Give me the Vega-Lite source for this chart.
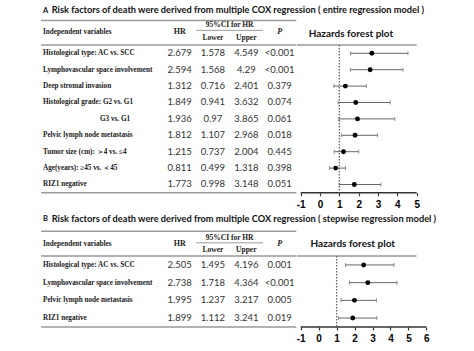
{
  "$schema": "https://vega.github.io/schema/vega-lite/v6.json",
  "background": "white",
  "padding": {"left": 40, "top": 5.3, "right": 0, "bottom": 0},
  "config": {
    "view": {"stroke": null},
    "axisX": {"domain": false, "tickColor": "#333", "tickWidth": 1.2, "tickSize": 3, "labelFont": "Liberation Sans", "labelFontSize": 10, "labelFontWeight": "bold", "labelColor": "#000", "labelPadding": 4, "labelOverlap": false, "labelFlush": false, "labelExpr": "datum.value + ''", "grid": false}
  },
  "datasets": {
    "one": [{}],
    "A": [
      {"row": "r1", "variable": "Histological type: AC vs. SCC", "hr": 2.679, "lo": 1.578, "hi": 4.549, "p": "<0.001"},
      {"row": "r2", "variable": "Lymphovascular space involvement", "hr": 2.594, "lo": 1.568, "hi": 4.29, "p": "<0.001"},
      {"row": "r3", "variable": "Deep stromal invasion", "hr": 1.312, "lo": 0.716, "hi": 2.401, "p": "0.379"},
      {"row": "r4", "variable": "Histological grade: G2 vs. G1", "hr": 1.849, "lo": 0.941, "hi": 3.632, "p": "0.074"},
      {"row": "r5", "variable": "G3 vs. G1", "hr": 1.936, "lo": 0.97, "hi": 3.865, "p": "0.061"},
      {"row": "r6", "variable": "Pelvic lymph node metastasis", "hr": 1.812, "lo": 1.107, "hi": 2.968, "p": "0.018"},
      {"row": "r7", "variable": "Tumor size (cm):  \uff1e4 vs. \u22644", "hr": 1.215, "lo": 0.737, "hi": 2.004, "p": "0.445"},
      {"row": "r8", "variable": "Age(years): \u226545 vs. \uff1c45", "hr": 0.811, "lo": 0.499, "hi": 1.318, "p": "0.398"},
      {"row": "r9", "variable": "RIZ1 negative", "hr": 1.773, "lo": 0.998, "hi": 3.148, "p": "0.051"}
    ],
    "B": [
      {"row": "r1", "variable": "Histological type: AC vs. SCC", "hr": 2.505, "lo": 1.495, "hi": 4.196, "p": "0.001"},
      {"row": "r2", "variable": "Lymphovascular space involvement", "hr": 2.738, "lo": 1.718, "hi": 4.364, "p": "<0.001"},
      {"row": "r3", "variable": "Pelvic lymph node metastasis", "hr": 1.995, "lo": 1.237, "hi": 3.217, "p": "0.005"},
      {"row": "r4", "variable": "RIZ1 negative", "hr": 1.899, "lo": 1.112, "hi": 3.241, "p": "0.019"}
    ]
  },
  "bounds": "flush",
  "columns": 3,
  "spacing": {"row": 27.4, "column": 0},
  "concat": [
    {
      "width": 122, "height": 180.4,
      "encoding": {
        "y": {"field": "row", "type": "nominal", "scale": {"type": "band", "domain": ["top", "head", "r1", "r2", "r3", "r4", "r5", "r6", "r7", "r8", "r9"], "paddingInner": 0, "paddingOuter": 0}, "axis": null}
      },
      "layer": [
        {"data": {"name": "one"}, "mark": {"type": "text", "align": "left", "dx": 2, "dy": -9.8, "font": "Lato", "fontWeight": "bold", "fontSize": 7.5, "color": "#111"},
         "encoding": {"x": {"datum": "v", "type": "nominal", "bandPosition": 0, "scale": {"type": "band", "domain": ["v"], "paddingInner": 0, "paddingOuter": 0}, "axis": null}, "y": {"datum": "top", "type": "nominal"}, "text": {"value": "A"}}},
        {"data": {"name": "one"}, "mark": {"type": "text", "align": "left", "dx": 10.7, "dy": -10.2, "font": "Lato", "fontWeight": "bold", "fontSize": 9.25, "color": "#111"},
         "encoding": {"x": {"datum": "v", "type": "nominal", "bandPosition": 0, "scale": {"type": "band", "domain": ["v"], "paddingInner": 0, "paddingOuter": 0}, "axis": null}, "y": {"datum": "top", "type": "nominal"}, "text": {"value": "Risk factors  of death  were derived from multiple COX regression ( entire regression model )"}}},
        {"data": {"name": "A"}, "transform": [{"filter": "datum.row !== 'r5'"}], "mark": {"type": "text", "align": "left", "dx": 2, "font": "Liberation Serif", "fontWeight": "bold", "fontSize": 7.2, "color": "#222"},
         "encoding": {"x": {"datum": "v", "type": "nominal", "bandPosition": 0, "scale": {"type": "band", "domain": ["v"], "paddingInner": 0, "paddingOuter": 0}, "axis": null}, "text": {"field": "variable"}}},
        {"data": {"name": "A"}, "transform": [{"filter": "datum.row === 'r5'"}], "mark": {"type": "text", "align": "left", "dx": 59, "font": "Liberation Serif", "fontWeight": "bold", "fontSize": 7.2, "color": "#222"},
         "encoding": {"x": {"datum": "v", "type": "nominal", "bandPosition": 0, "scale": {"type": "band", "domain": ["v"], "paddingInner": 0, "paddingOuter": 0}, "axis": null}, "text": {"field": "variable"}}},
        {"data": {"name": "one"}, "mark": {"type": "text", "align": "left", "dx": 2, "dy": -4.5, "font": "Liberation Serif", "fontWeight": "bold", "fontSize": 7.2, "color": "#222"},
         "encoding": {"x": {"datum": "v", "type": "nominal", "bandPosition": 0, "scale": {"type": "band", "domain": ["v"], "paddingInner": 0, "paddingOuter": 0}, "axis": null}, "y": {"datum": "head", "type": "nominal"}, "text": {"value": "Independent variables"}}},
        {"data": {"name": "one"}, "mark": {"type": "rule", "color": "#999", "strokeWidth": 1.5},
         "encoding": {"y": {"datum": "top", "type": "nominal", "bandPosition": 0.5}}},
        {"data": {"name": "one"}, "mark": {"type": "rule", "color": "#999", "strokeWidth": 1.5},
         "encoding": {"y": {"datum": "r1", "type": "nominal", "bandPosition": 0}}},
        {"data": {"name": "one"}, "mark": {"type": "rule", "color": "#999", "strokeWidth": 1.5},
         "encoding": {"y": {"datum": "r9", "type": "nominal", "bandPosition": 1}}}
      ]
    },
    {
      "width": 133.3, "height": 180.4,
      "encoding": {
        "y": {"field": "row", "type": "nominal", "scale": {"type": "band", "domain": ["top", "head", "r1", "r2", "r3", "r4", "r5", "r6", "r7", "r8", "r9"], "paddingInner": 0, "paddingOuter": 0}, "axis": null}
      },
      "layer": [
        {"data": {"name": "A"}, "mark": {"type": "text", "font": "Lato", "fontSize": 9.5, "color": "#333"},
         "encoding": {"x": {"datum": "HR", "type": "nominal", "scale": {"type": "band", "domain": ["HR", "Lower", "Upper", "P"], "paddingInner": 0, "paddingOuter": 0}, "axis": null}, "text": {"field": "hr", "type": "nominal"}}},
        {"data": {"name": "A"}, "mark": {"type": "text", "font": "Lato", "fontSize": 9.5, "color": "#333"},
         "encoding": {"x": {"datum": "Lower", "type": "nominal"}, "text": {"field": "lo", "type": "nominal"}}},
        {"data": {"name": "A"}, "mark": {"type": "text", "font": "Lato", "fontSize": 9.5, "color": "#333"},
         "encoding": {"x": {"datum": "Upper", "type": "nominal"}, "text": {"field": "hi", "type": "nominal"}}},
        {"data": {"name": "A"}, "mark": {"type": "text", "font": "Lato", "fontSize": 9.5, "color": "#333"},
         "encoding": {"x": {"datum": "P", "type": "nominal"}, "text": {"field": "p", "type": "nominal"}}},
        {"data": {"name": "one"}, "mark": {"type": "text", "font": "Liberation Serif", "fontWeight": "bold", "fontSize": 8, "color": "#222", "dy": -4.5},
         "encoding": {"x": {"datum": "HR", "type": "nominal"}, "y": {"datum": "head", "type": "nominal"}, "text": {"value": "HR"}}},
        {"data": {"name": "one"}, "mark": {"type": "text", "font": "Liberation Serif", "fontWeight": "bold", "fontStyle": "italic", "fontSize": 8, "color": "#222", "dy": -4.5},
         "encoding": {"x": {"datum": "P", "type": "nominal"}, "y": {"datum": "head", "type": "nominal"}, "text": {"value": "P"}}},
        {"data": {"name": "one"}, "mark": {"type": "text", "font": "Liberation Serif", "fontWeight": "bold", "fontSize": 7.5, "color": "#222", "dy": 1},
         "encoding": {"x": {"datum": "Lower", "type": "nominal"}, "y": {"datum": "head", "type": "nominal"}, "text": {"value": "Lower"}}},
        {"data": {"name": "one"}, "mark": {"type": "text", "font": "Liberation Serif", "fontWeight": "bold", "fontSize": 7.5, "color": "#222", "dy": 1},
         "encoding": {"x": {"datum": "Upper", "type": "nominal"}, "y": {"datum": "head", "type": "nominal"}, "text": {"value": "Upper"}}},
        {"data": {"name": "one"}, "mark": {"type": "text", "font": "Liberation Serif", "fontWeight": "bold", "fontSize": 7.5, "color": "#222", "dy": -11.5},
         "encoding": {"x": {"datum": "Lower", "type": "nominal", "bandPosition": 1}, "y": {"datum": "head", "type": "nominal"}, "text": {"value": "95%CI for HR"}}},
        {"data": {"name": "one"}, "mark": {"type": "rule", "color": "#999", "strokeWidth": 1},
         "encoding": {"x": {"datum": "Lower", "type": "nominal", "bandPosition": 0}, "x2": {"datum": "Upper", "bandPosition": 1}, "y": {"datum": "head", "type": "nominal", "bandPosition": 0.1}}},
        {"data": {"name": "one"}, "mark": {"type": "rule", "color": "#999", "strokeWidth": 1.5},
         "encoding": {"y": {"datum": "top", "type": "nominal", "bandPosition": 0.5}}},
        {"data": {"name": "one"}, "mark": {"type": "rule", "color": "#999", "strokeWidth": 1.5},
         "encoding": {"y": {"datum": "r1", "type": "nominal", "bandPosition": 0}}},
        {"data": {"name": "one"}, "mark": {"type": "rule", "color": "#999", "strokeWidth": 1.5},
         "encoding": {"y": {"datum": "r9", "type": "nominal", "bandPosition": 1}}}
      ]
    },
    {
      "width": 119.7, "height": 180.4,
      "encoding": {
        "y": {"field": "row", "type": "nominal", "scale": {"type": "band", "domain": ["top", "head", "r1", "r2", "r3", "r4", "r5", "r6", "r7", "r8", "r9"], "paddingInner": 0, "paddingOuter": 0}, "axis": null}
      },
      "layer": [
        {"data": {"name": "one"}, "mark": {"type": "text", "font": "Lato", "fontWeight": "bold", "fontSize": 10, "color": "#111", "dy": -3},
         "encoding": {"x": {"datum": 1.6, "type": "quantitative", "scale": {"domain": [-1.19, 5], "nice": false, "zero": false}, "axis": {"values": [-1, 0, 1, 2, 3, 4, 5], "title": null}}, "y": {"datum": "head", "type": "nominal"}, "text": {"value": "Hazards forest plot"}}},
        {"data": {"name": "one"}, "mark": {"type": "rule", "color": "#999", "strokeWidth": 1.5},
         "encoding": {"x": {"datum": -1.19, "type": "quantitative", "axis": {"values": [-1, 0, 1, 2, 3, 4, 5], "title": null}}, "x2": {"datum": 5}, "y": {"datum": "r1", "type": "nominal", "bandPosition": 0}}},
        {"data": {"name": "one"}, "mark": {"type": "rule", "color": "#333", "strokeWidth": 1.5},
         "encoding": {"x": {"datum": -1, "type": "quantitative", "axis": {"values": [-1, 0, 1, 2, 3, 4, 5], "title": null}}, "x2": {"datum": 5}, "y": {"datum": "r9", "type": "nominal", "bandPosition": 1}}},
        {"data": {"name": "one"}, "mark": {"type": "rule", "color": "#666", "strokeWidth": 1.3, "strokeDash": [1.5, 1.5]},
         "encoding": {"x": {"datum": 1, "type": "quantitative", "axis": {"values": [-1, 0, 1, 2, 3, 4, 5], "title": null}}, "y": {"datum": "r1", "type": "nominal", "bandPosition": 0}, "y2": {"datum": "r9", "bandPosition": 1}}},
        {"data": {"name": "A"}, "mark": {"type": "rule", "color": "#666", "strokeWidth": 1},
         "encoding": {"x": {"field": "lo", "type": "quantitative", "axis": {"values": [-1, 0, 1, 2, 3, 4, 5], "title": null}}, "x2": {"field": "hi"}}},
        {"data": {"name": "A"}, "mark": {"type": "tick", "color": "#666", "size": 4, "thickness": 1},
         "encoding": {"x": {"field": "lo", "type": "quantitative", "axis": {"values": [-1, 0, 1, 2, 3, 4, 5], "title": null}}}},
        {"data": {"name": "A"}, "mark": {"type": "tick", "color": "#666", "size": 4, "thickness": 1},
         "encoding": {"x": {"field": "hi", "type": "quantitative", "axis": {"values": [-1, 0, 1, 2, 3, 4, 5], "title": null}}}},
        {"data": {"name": "A"}, "mark": {"type": "point", "filled": true, "color": "#000", "opacity": 1, "size": 24},
         "encoding": {"x": {"field": "hr", "type": "quantitative", "axis": {"values": [-1, 0, 1, 2, 3, 4, 5], "title": null}}}}
      ]
    },
    {
      "width": 122, "height": 106.2,
      "encoding": {
        "y": {"field": "row", "type": "nominal", "scale": {"type": "band", "domain": ["top", "head", "r1", "r2", "r3", "r4"], "paddingInner": 0, "paddingOuter": 0}, "axis": null}
      },
      "layer": [
        {"data": {"name": "one"}, "mark": {"type": "text", "align": "left", "dx": 2, "dy": -10.3, "font": "Lato", "fontWeight": "bold", "fontSize": 7.5, "color": "#111"},
         "encoding": {"x": {"datum": "v", "type": "nominal", "bandPosition": 0, "scale": {"type": "band", "domain": ["v"], "paddingInner": 0, "paddingOuter": 0}, "axis": null}, "y": {"datum": "top", "type": "nominal"}, "text": {"value": "B"}}},
        {"data": {"name": "one"}, "mark": {"type": "text", "align": "left", "dx": 10.7, "dy": -10.7, "font": "Lato", "fontWeight": "bold", "fontSize": 9.25, "color": "#111"},
         "encoding": {"x": {"datum": "v", "type": "nominal", "bandPosition": 0, "scale": {"type": "band", "domain": ["v"], "paddingInner": 0, "paddingOuter": 0}, "axis": null}, "y": {"datum": "top", "type": "nominal"}, "text": {"value": "Risk factors  of death were derived from multiple COX regression ( stepwise regression model )"}}},
        {"data": {"name": "B"}, "mark": {"type": "text", "align": "left", "dx": 2, "font": "Liberation Serif", "fontWeight": "bold", "fontSize": 7.2, "color": "#222"},
         "encoding": {"x": {"datum": "v", "type": "nominal", "bandPosition": 0, "scale": {"type": "band", "domain": ["v"], "paddingInner": 0, "paddingOuter": 0}, "axis": null}, "text": {"field": "variable"}}},
        {"data": {"name": "one"}, "mark": {"type": "text", "align": "left", "dx": 2, "dy": -3, "font": "Liberation Serif", "fontWeight": "bold", "fontSize": 7.2, "color": "#222"},
         "encoding": {"x": {"datum": "v", "type": "nominal", "bandPosition": 0, "scale": {"type": "band", "domain": ["v"], "paddingInner": 0, "paddingOuter": 0}, "axis": null}, "y": {"datum": "head", "type": "nominal"}, "text": {"value": "Independent variables"}}},
        {"data": {"name": "one"}, "mark": {"type": "rule", "color": "#999", "strokeWidth": 1.5},
         "encoding": {"y": {"datum": "top", "type": "nominal", "bandPosition": 0.6}}},
        {"data": {"name": "one"}, "mark": {"type": "rule", "color": "#999", "strokeWidth": 1.5},
         "encoding": {"y": {"datum": "r1", "type": "nominal", "bandPosition": 0}}},
        {"data": {"name": "one"}, "mark": {"type": "rule", "color": "#999", "strokeWidth": 1.5},
         "encoding": {"y": {"datum": "r4", "type": "nominal", "bandPosition": 1}}}
      ]
    },
    {
      "width": 133.3, "height": 106.2,
      "encoding": {
        "y": {"field": "row", "type": "nominal", "scale": {"type": "band", "domain": ["top", "head", "r1", "r2", "r3", "r4"], "paddingInner": 0, "paddingOuter": 0}, "axis": null}
      },
      "layer": [
        {"data": {"name": "B"}, "mark": {"type": "text", "font": "Lato", "fontSize": 9.5, "color": "#333"},
         "encoding": {"x": {"datum": "HR", "type": "nominal", "scale": {"type": "band", "domain": ["HR", "Lower", "Upper", "P"], "paddingInner": 0, "paddingOuter": 0}, "axis": null}, "text": {"field": "hr", "type": "nominal"}}},
        {"data": {"name": "B"}, "mark": {"type": "text", "font": "Lato", "fontSize": 9.5, "color": "#333"},
         "encoding": {"x": {"datum": "Lower", "type": "nominal"}, "text": {"field": "lo", "type": "nominal"}}},
        {"data": {"name": "B"}, "mark": {"type": "text", "font": "Lato", "fontSize": 9.5, "color": "#333"},
         "encoding": {"x": {"datum": "Upper", "type": "nominal"}, "text": {"field": "hi", "type": "nominal"}}},
        {"data": {"name": "B"}, "mark": {"type": "text", "font": "Lato", "fontSize": 9.5, "color": "#333"},
         "encoding": {"x": {"datum": "P", "type": "nominal"}, "text": {"field": "p", "type": "nominal"}}},
        {"data": {"name": "one"}, "mark": {"type": "text", "font": "Liberation Serif", "fontWeight": "bold", "fontSize": 8, "color": "#222", "dy": -3},
         "encoding": {"x": {"datum": "HR", "type": "nominal"}, "y": {"datum": "head", "type": "nominal"}, "text": {"value": "HR"}}},
        {"data": {"name": "one"}, "mark": {"type": "text", "font": "Liberation Serif", "fontWeight": "bold", "fontStyle": "italic", "fontSize": 8, "color": "#222", "dy": -3},
         "encoding": {"x": {"datum": "P", "type": "nominal"}, "y": {"datum": "head", "type": "nominal"}, "text": {"value": "P"}}},
        {"data": {"name": "one"}, "mark": {"type": "text", "font": "Liberation Serif", "fontWeight": "bold", "fontSize": 7.5, "color": "#222", "dy": 3},
         "encoding": {"x": {"datum": "Lower", "type": "nominal"}, "y": {"datum": "head", "type": "nominal"}, "text": {"value": "Lower"}}},
        {"data": {"name": "one"}, "mark": {"type": "text", "font": "Liberation Serif", "fontWeight": "bold", "fontSize": 7.5, "color": "#222", "dy": 3},
         "encoding": {"x": {"datum": "Upper", "type": "nominal"}, "y": {"datum": "head", "type": "nominal"}, "text": {"value": "Upper"}}},
        {"data": {"name": "one"}, "mark": {"type": "text", "font": "Liberation Serif", "fontWeight": "bold", "fontSize": 7.5, "color": "#222", "dy": -9},
         "encoding": {"x": {"datum": "Lower", "type": "nominal", "bandPosition": 1}, "y": {"datum": "head", "type": "nominal"}, "text": {"value": "95%CI for HR"}}},
        {"data": {"name": "one"}, "mark": {"type": "rule", "color": "#999", "strokeWidth": 1},
         "encoding": {"x": {"datum": "Lower", "type": "nominal", "bandPosition": 0}, "x2": {"datum": "Upper", "bandPosition": 1}, "y": {"datum": "head", "type": "nominal", "bandPosition": 0.25}}},
        {"data": {"name": "one"}, "mark": {"type": "rule", "color": "#999", "strokeWidth": 1.5},
         "encoding": {"y": {"datum": "top", "type": "nominal", "bandPosition": 0.6}}},
        {"data": {"name": "one"}, "mark": {"type": "rule", "color": "#999", "strokeWidth": 1.5},
         "encoding": {"y": {"datum": "r1", "type": "nominal", "bandPosition": 0}}},
        {"data": {"name": "one"}, "mark": {"type": "rule", "color": "#999", "strokeWidth": 1.5},
         "encoding": {"y": {"datum": "r4", "type": "nominal", "bandPosition": 1}}}
      ]
    },
    {
      "width": 129.4, "height": 106.2,
      "encoding": {
        "y": {"field": "row", "type": "nominal", "scale": {"type": "band", "domain": ["top", "head", "r1", "r2", "r3", "r4"], "paddingInner": 0, "paddingOuter": 0}, "axis": null}
      },
      "layer": [
        {"data": {"name": "one"}, "mark": {"type": "text", "font": "Lato", "fontWeight": "bold", "fontSize": 10, "color": "#111", "dy": -3},
         "encoding": {"x": {"datum": 1.9, "type": "quantitative", "scale": {"domain": [-1.206, 6], "nice": false, "zero": false}, "axis": {"values": [-1, 0, 1, 2, 3, 4, 5, 6], "title": null}}, "y": {"datum": "head", "type": "nominal"}, "text": {"value": "Hazards forest plot"}}},
        {"data": {"name": "one"}, "mark": {"type": "rule", "color": "#999", "strokeWidth": 1.5},
         "encoding": {"x": {"datum": -1.206, "type": "quantitative", "axis": {"values": [-1, 0, 1, 2, 3, 4, 5, 6], "title": null}}, "x2": {"datum": 5.45}, "y": {"datum": "r1", "type": "nominal", "bandPosition": 0}}},
        {"data": {"name": "one"}, "mark": {"type": "rule", "color": "#333", "strokeWidth": 1.5},
         "encoding": {"x": {"datum": -1, "type": "quantitative", "axis": {"values": [-1, 0, 1, 2, 3, 4, 5, 6], "title": null}}, "x2": {"datum": 6}, "y": {"datum": "r4", "type": "nominal", "bandPosition": 1}}},
        {"data": {"name": "one"}, "mark": {"type": "rule", "color": "#666", "strokeWidth": 1.3, "strokeDash": [1.5, 1.5]},
         "encoding": {"x": {"datum": 1, "type": "quantitative", "axis": {"values": [-1, 0, 1, 2, 3, 4, 5, 6], "title": null}}, "y": {"datum": "r1", "type": "nominal", "bandPosition": 0}, "y2": {"datum": "r4", "bandPosition": 1}}},
        {"data": {"name": "B"}, "mark": {"type": "rule", "color": "#666", "strokeWidth": 1},
         "encoding": {"x": {"field": "lo", "type": "quantitative", "axis": {"values": [-1, 0, 1, 2, 3, 4, 5, 6], "title": null}}, "x2": {"field": "hi"}}},
        {"data": {"name": "B"}, "mark": {"type": "tick", "color": "#666", "size": 4, "thickness": 1},
         "encoding": {"x": {"field": "lo", "type": "quantitative", "axis": {"values": [-1, 0, 1, 2, 3, 4, 5, 6], "title": null}}}},
        {"data": {"name": "B"}, "mark": {"type": "tick", "color": "#666", "size": 4, "thickness": 1},
         "encoding": {"x": {"field": "hi", "type": "quantitative", "axis": {"values": [-1, 0, 1, 2, 3, 4, 5, 6], "title": null}}}},
        {"data": {"name": "B"}, "mark": {"type": "point", "filled": true, "color": "#000", "opacity": 1, "size": 24},
         "encoding": {"x": {"field": "hr", "type": "quantitative", "axis": {"values": [-1, 0, 1, 2, 3, 4, 5, 6], "title": null}}}}
      ]
    }
  ]
}
